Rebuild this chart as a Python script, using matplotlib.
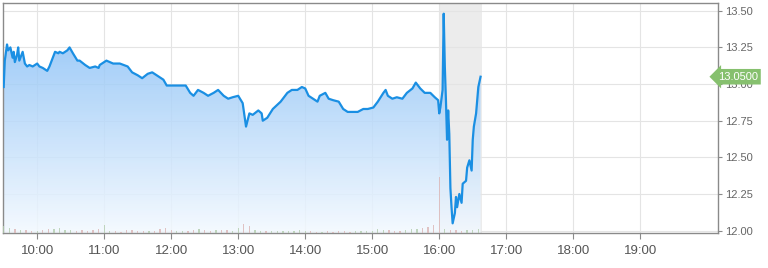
import numpy as np
import matplotlib.pyplot as plt
from matplotlib.colors import LinearSegmentedColormap

# intraday price
times = ["9:30", "9:31", "9:33", "9:34", "9:36", "9:38", "9:39", "9:40", "9:42", "9:43",
         "9:44", "9:46", "9:47", "9:49", "9:51", "9:53", "9:56", "10:00", "10:02", "10:05",
         "10:09", "10:11", "10:14", "10:16", "10:19", "10:20", "10:23", "10:27", "10:29", "10:32",
         "10:36", "10:38", "10:43", "10:47", "10:52", "10:55", "10:56", "11:02", "11:08", "11:14",
         "11:21", "11:25", "11:30", "11:34", "11:39", "11:43", "11:47", "11:53", "11:56", "12:02",
         "12:08", "12:13", "12:17", "12:20", "12:24", "12:29", "12:33", "12:38", "12:42", "12:47",
         "12:51", "12:55", "13:00", "13:04", "13:07", "13:10", "13:13", "13:18", "13:21", "13:22",
         "13:26", "13:31", "13:38", "13:44", "13:48", "13:53", "13:57", "14:00", "14:03", "14:07",
         "14:11", "14:13", "14:18", "14:21", "14:25", "14:30", "14:34", "14:38", "14:43", "14:47",
         "14:52", "14:56", "15:01", "15:05", "15:10", "15:12", "15:14", "15:18", "15:22", "15:27",
         "15:31", "15:36", "15:39", "15:43", "15:47", "15:52", "15:56", "15:59", "16:00",
         "16:01", "16:03", "16:04", "16:05", "16:06", "16:07", "16:08", "16:09", "16:10", "16:11",
         "16:12", "16:14", "16:15", "16:16", "16:18", "16:20", "16:21", "16:24", "16:25", "16:27",
         "16:29", "16:30", "16:31", "16:33", "16:35", "16:37"]
prices = [12.98, 13.16, 13.27, 13.23, 13.25, 13.18, 13.22, 13.15, 13.20, 13.25,
          13.16, 13.20, 13.22, 13.14, 13.12, 13.13, 13.12, 13.14, 13.12, 13.11,
          13.09, 13.12, 13.18, 13.22, 13.21, 13.22, 13.21, 13.23, 13.25, 13.21,
          13.16, 13.16, 13.13, 13.11, 13.12, 13.11, 13.13, 13.16, 13.14, 13.14,
          13.12, 13.08, 13.06, 13.04, 13.07, 13.08, 13.06, 13.03, 12.99, 12.99,
          12.99, 12.99, 12.94, 12.92, 12.96, 12.94, 12.92, 12.94, 12.96, 12.92,
          12.90, 12.91, 12.92, 12.87, 12.71, 12.80, 12.79, 12.82, 12.80, 12.75,
          12.77, 12.83, 12.88, 12.94, 12.96, 12.96, 12.98, 12.97, 12.92, 12.90,
          12.88, 12.92, 12.94, 12.90, 12.89, 12.88, 12.83, 12.81, 12.81, 12.81,
          12.83, 12.83, 12.84, 12.88, 12.94, 12.96, 12.92, 12.90, 12.91, 12.90,
          12.94, 12.97, 13.01, 12.97, 12.94, 12.94, 12.91, 12.89, 12.80,
          12.84, 12.96, 13.48, 13.12, 12.89, 12.62, 12.82, 12.66, 12.29, 12.16,
          12.05, 12.12, 12.23, 12.16, 12.25, 12.19, 12.32, 12.34, 12.43, 12.48,
          12.41, 12.62, 12.71, 12.80, 12.98, 13.05]

# volume every 5 minutes from 9:30 (thousands, rough)
vol_start = "9:30"
volumes = [75, 50, 40, 35, 30, 25, 20, 30, 45, 40, 50, 35, 30, 25, 30, 25, 35, 40,
           85, 20, 25, 15, 30, 35, 25, 20, 20, 25, 40, 55, 30, 20, 25, 20, 35, 40,
           30, 25, 30, 35, 30, 25, 55, 95, 70, 30, 25, 20, 25, 20, 25, 20, 25, 30,
           25, 20, 15, 15, 20, 15, 20, 25, 15, 20, 25, 20, 25, 45, 35, 30, 20, 25,
           35, 40, 45, 55, 65, 80, 560, 45, 35, 30, 25, 30, 35, 40]

hour_labels = ["10:00", "11:00", "12:00", "13:00", "14:00", "15:00", "16:00", "17:00", "18:00", "19:00"]
price_ticks = [12.00, 12.25, 12.50, 12.75, 13.00, 13.25, 13.50]
last_price = 13.05
after_hours = ("16:00", "16:38")


def to_hours(s):
    h, m = s.split(":")
    return int(h) + int(m) / 60


x = np.array([to_hours(t) for t in times])
y = np.array(prices)
vx = to_hours(vol_start) + np.arange(len(volumes)) * 5 / 60

fig = plt.figure(figsize=(7.68, 2.68), dpi=100)
ax = fig.add_axes([3 / 768, 35 / 268, 715 / 768, 230 / 268])
ymin, ymax = 11.984, 13.553
xmin, xmax = 9.49, 20.16

ax.axvspan(to_hours(after_hours[0]), to_hours(after_hours[1]), color="#ececec", zorder=0, lw=0)

# gradient fill under the line
cmap = LinearSegmentedColormap.from_list("blu", ["#f3f9ff", "#8fc3f7"])
grad = np.linspace(0, 1, 256).reshape(-1, 1)
poly = ax.fill_between(x, ymin, y, color="none", lw=0)
img = ax.imshow(grad, cmap=cmap, aspect="auto", origin="lower", alpha=0.85,
                extent=[xmin, xmax, ymin, 13.3], zorder=1)
img.set_clip_path(poly.get_paths()[0], transform=ax.transData)

ax.plot(x, y, color="#1a8fe3", lw=1.6, zorder=3, solid_joinstyle="round")

# volume on hidden twin axis
vax = ax.twinx()
vp = np.interp(vx, x, y)
ups = np.diff(np.concatenate([[vp[0]], vp])) >= 0
vcol = ["#b3cdae" if u else "#dbb5b5" for u in ups]
vax.bar(vx, volumes, width=0.02, color=vcol, lw=0, zorder=2, alpha=0.8)
vax.set_ylim(0, 2300)
vax.axis("off")

ax.set_xlim(xmin, xmax)
ax.set_ylim(ymin, ymax)
ax.set_xticks([to_hours(h) for h in hour_labels])
ax.set_xticklabels(hour_labels)
ax.set_yticks(price_ticks)
ax.set_yticklabels([f"{p:.2f}" for p in price_ticks])
ax.yaxis.tick_right()
ax.grid(True, color="#e4e4e4", lw=0.8, zorder=0)
ax.set_axisbelow(True)
for s in ax.spines.values():
    s.set_color("#8a8a8a")
    s.set_linewidth(1)
ax.tick_params(axis="x", length=4, color="#8a8a8a", pad=5, labelsize=9.5, labelcolor="#555555")
ax.tick_params(axis="y", length=3, color="#8a8a8a", pad=2, labelsize=8, labelcolor="#666666")
for lab in ax.get_xticklabels() + ax.get_yticklabels():
    lab.set_family("Liberation Sans")

ax.text(1.0, last_price, f"{last_price:.4f}", transform=ax.get_yaxis_transform(),
        color="white", fontsize=8, family="Liberation Sans", va="center", ha="left",
        bbox=dict(boxstyle="larrow,pad=0.25", fc="#86c06e", ec="none"), zorder=5,
        clip_on=False)

fig.savefig("out.png", dpi=100)
